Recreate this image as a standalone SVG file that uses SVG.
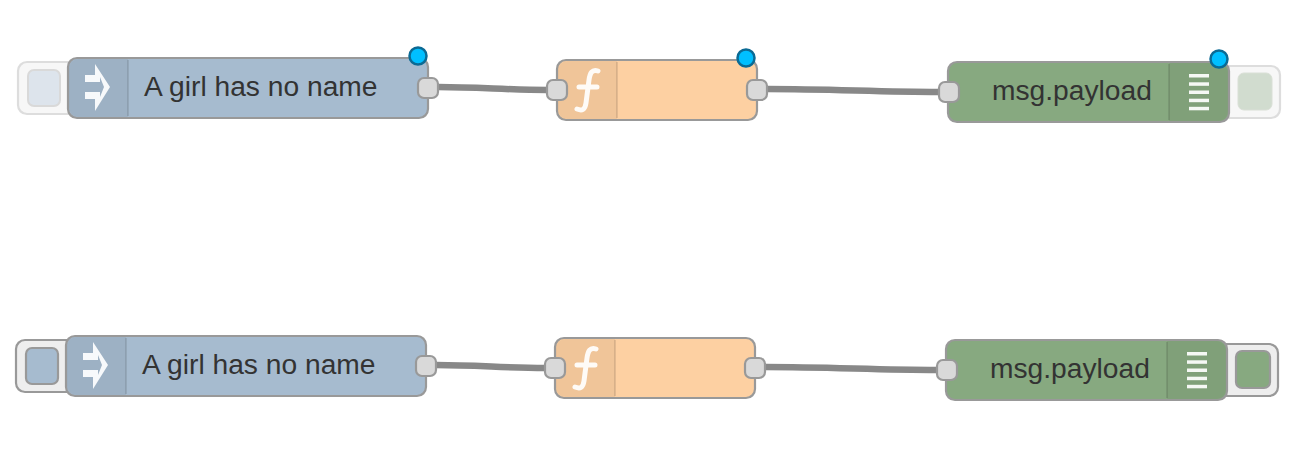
<svg xmlns="http://www.w3.org/2000/svg" width="1309" height="462" viewBox="0 0 1309 462">
<style>
.body{stroke:#999;stroke-width:2.2}
.inj{fill:#a6bbcf}.fn{fill:#fdd0a2}.dbg{fill:#87a980}
.shade{fill:#000;fill-opacity:.05}
.sep{stroke:#000;stroke-opacity:.1;stroke-width:2;fill:none}
.port{fill:#d9d9d9;stroke:#999;stroke-width:2.2}
.lbl{font-family:"Liberation Sans",Arial,sans-serif;font-size:28.2px;fill:#333}
.wire{fill:none;stroke:#888;stroke-width:6.500}
.tab{fill:#eee;stroke:#999;stroke-width:2.200}
.tabd{fill:#f7f7f7;stroke:#ddd;stroke-width:2.200}
.btn{stroke:#999;stroke-width:2.200}
.btnd{stroke:#d9d9d9;stroke-width:2}
.dot{fill:#00bfff;stroke:#0b6a94;stroke-width:2.500}
.ico{fill:#fff;fill-opacity:.92}
.icol{fill:none;stroke:#fff;stroke-opacity:.92}
</style>
<defs>
<path id="arrowicon" d="M0-12H10V-23L25 0L10 24V12H0V5H15V10L19 0L15-10V-5H0Z"/>
<path id="fnicon" d="M20-19C14-21 12-17 11-10L8 13C7 20 4 21-1 19M1-3H19"/>
</defs>
<g id="connectors">
<path class="wire" d="M438 87C478 87 508 90 547 90"/>
<path class="wire" d="M767 89C830 89 880 92 939 92"/>
<path class="wire" d="M436 365C476 365 506 368 545 368"/>
<path class="wire" d="M765 367C828 367 878 370 937 370"/>
</g>
<g id="inject-1">
<rect class="tabd" x="18" y="62" width="70" height="52" rx="9"/>
<rect x="28" y="70" width="32" height="36" rx="6" fill="#dde4ec" class="btnd"/>
<rect class="body inj" x="68" y="58" width="360" height="60" rx="9"/>
<path class="shade" d="M69 68a9 9 0 0 1 9-9H128V117H78a9 9 0 0 1-9-9Z"/>
<path class="sep" d="M128 60V116"/>
<use href="#arrowicon" class="ico" x="85" y="87"/>
<text class="lbl" x="144" y="96">A girl has no name</text>
<rect class="port" x="418" y="78" width="20" height="20" rx="6"/>
<circle class="dot" cx="418" cy="56" r="8.500"/>
</g>
<g id="function-1">
<rect class="body fn" x="557" y="60" width="200" height="60" rx="9"/>
<path class="shade" d="M558 70a9 9 0 0 1 9-9H617V119H567a9 9 0 0 1-9-9Z"/>
<path class="sep" d="M617 62V118"/>
<use href="#fnicon" class="icol" x="578" y="90" stroke-width="5" stroke-linecap="round"/>
<rect class="port" x="547" y="80" width="20" height="20" rx="6"/>
<rect class="port" x="747" y="80" width="20" height="20" rx="6"/>
<circle class="dot" cx="746" cy="58" r="8.500"/>
</g>
<g id="debug-1">
<rect class="tabd" x="1209" y="66" width="71" height="52" rx="9"/>
<rect x="1238" y="73" width="34" height="37" rx="6" fill="#d1dccf" stroke="#d9dfd6" stroke-width="1"/>
<rect class="body dbg" x="948" y="62" width="281" height="60" rx="9"/>
<path class="shade" d="M1169 63H1219a9 9 0 0 1 9 9V112a9 9 0 0 1-9 9H1169Z"/>
<path class="sep" d="M1169 64V120"/>
<g class="ico"><rect x="1189" y="74" width="20" height="3.500"/><rect x="1189" y="82.300" width="20" height="3.500"/><rect x="1189" y="90.500" width="20" height="3.500"/><rect x="1189" y="98.700" width="20" height="3.500"/><rect x="1189" y="106.800" width="20" height="3.500"/></g>
<text class="lbl" x="992" y="100">msg.payload</text>
<rect class="port" x="939" y="82" width="20" height="20" rx="6"/>
<circle class="dot" cx="1219" cy="59" r="8.500"/>
</g>
<g id="inject-2">
<rect class="tab" x="16" y="340" width="70" height="52" rx="9"/>
<rect x="26" y="348" width="32" height="36" rx="6" fill="#a6bbcf" class="btn"/>
<rect class="body inj" x="66" y="336" width="360" height="60" rx="9"/>
<path class="shade" d="M67 346a9 9 0 0 1 9-9H126V395H76a9 9 0 0 1-9-9Z"/>
<path class="sep" d="M126 338V394"/>
<use href="#arrowicon" class="ico" x="83" y="365"/>
<text class="lbl" x="142" y="374">A girl has no name</text>
<rect class="port" x="416" y="356" width="20" height="20" rx="6"/>
</g>
<g id="function-2">
<rect class="body fn" x="555" y="338" width="200" height="60" rx="9"/>
<path class="shade" d="M556 348a9 9 0 0 1 9-9H615V397H565a9 9 0 0 1-9-9Z"/>
<path class="sep" d="M615 340V396"/>
<use href="#fnicon" class="icol" x="576" y="368" stroke-width="5" stroke-linecap="round"/>
<rect class="port" x="545" y="358" width="20" height="20" rx="6"/>
<rect class="port" x="745" y="358" width="20" height="20" rx="6"/>
</g>
<g id="debug-2">
<rect class="tab" x="1207" y="344" width="71" height="52" rx="9"/>
<rect x="1236" y="351" width="34" height="37" rx="6" fill="#87a980" class="btn"/>
<rect class="body dbg" x="946" y="340" width="281" height="60" rx="9"/>
<path class="shade" d="M1167 341H1217a9 9 0 0 1 9 9V390a9 9 0 0 1-9 9H1167Z"/>
<path class="sep" d="M1167 342V398"/>
<g class="ico"><rect x="1187" y="352" width="20" height="3.500"/><rect x="1187" y="360.300" width="20" height="3.500"/><rect x="1187" y="368.500" width="20" height="3.500"/><rect x="1187" y="376.700" width="20" height="3.500"/><rect x="1187" y="384.800" width="20" height="3.500"/></g>
<text class="lbl" x="990" y="378">msg.payload</text>
<rect class="port" x="937" y="360" width="20" height="20" rx="6"/>
</g>
</svg>
